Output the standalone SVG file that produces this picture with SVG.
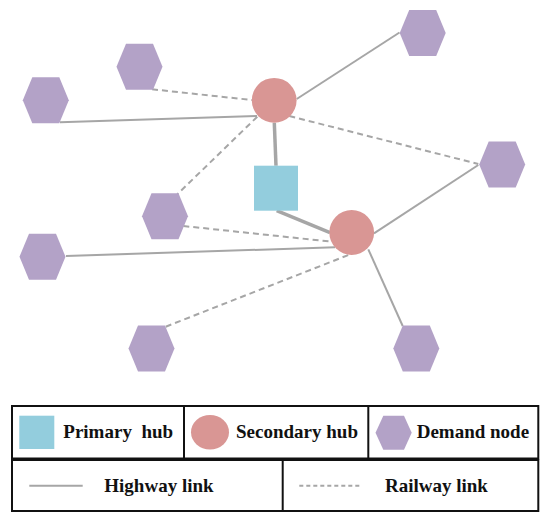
<svg xmlns="http://www.w3.org/2000/svg" width="550" height="523" viewBox="0 0 550 523">
<style>
.hw{stroke:#a6a6a6;stroke-width:2;fill:none}
.rw{stroke:#a6a6a6;stroke-width:2;fill:none;stroke-dasharray:6 4}
.main{stroke:#a6a6a6;stroke-width:3.5;fill:none}
.hexf{fill:#b3a2c7}
.hubf{fill:#d99694}
.prif{fill:#93cddd}
.box{fill:none;stroke:#111;stroke-width:2}
.lbl{font-family:"Liberation Serif","Times New Roman",serif;font-weight:bold;font-size:19px;fill:#111}
</style>
<defs>
<polygon id="hex" points="-23,0 -13.5,-23 13.5,-23 23,0 13.5,23 -13.5,23"/>
</defs>
<rect width="550" height="523" fill="#fff"/>
<g id="connectors">
<line class="hw" x1="296.7" y1="99" x2="399.5" y2="32.5"/>
<line class="rw" x1="152" y1="89.3" x2="252" y2="100"/>
<line class="hw" x1="60" y1="122.3" x2="257" y2="116"/>
<line class="rw" x1="257.3" y1="116.7" x2="177.3" y2="194.3"/>
<line class="main" x1="274.3" y1="122.7" x2="276" y2="165.7"/>
<line class="rw" x1="289.3" y1="116" x2="478.3" y2="164"/>
<line class="main" x1="276.7" y1="210.7" x2="330" y2="232.7"/>
<line class="rw" x1="183.3" y1="226" x2="331.7" y2="241.7"/>
<line class="hw" x1="66" y1="256" x2="335" y2="247.3"/>
<line class="rw" x1="165.7" y1="326.7" x2="351" y2="254"/>
<line class="hw" x1="368.3" y1="249.3" x2="402.7" y2="326"/>
<line class="hw" x1="374" y1="233.3" x2="478.3" y2="165"/>
</g>
<g id="demand1"><use href="#hex" class="hexf" x="422.7" y="33"/></g>
<g id="demand2"><use href="#hex" class="hexf" x="139.5" y="66.7"/></g>
<g id="demand3"><use href="#hex" class="hexf" x="45.8" y="100.3"/></g>
<g id="demand4"><use href="#hex" class="hexf" x="502.2" y="164.5"/></g>
<g id="demand5"><use href="#hex" class="hexf" x="165" y="216.3"/></g>
<g id="demand6"><use href="#hex" class="hexf" x="42.5" y="256.7"/></g>
<g id="demand7"><use href="#hex" class="hexf" x="151.5" y="348.5"/></g>
<g id="demand8"><use href="#hex" class="hexf" x="416.3" y="348.5"/></g>
<g id="hub1"><circle class="hubf" cx="274.2" cy="100.3" r="22.4"/></g>
<g id="hub2"><circle class="hubf" cx="351.7" cy="232.5" r="22.4"/></g>
<g id="primary"><rect class="prif" x="254" y="165.7" width="44" height="45"/></g>
<g id="legend">
<rect class="box" x="12" y="406" width="526.3" height="52.5"/>
<line class="box" x1="184" y1="406" x2="184" y2="458.5"/>
<line class="box" x1="368.3" y1="406" x2="368.3" y2="458.5"/>
<rect class="box" x="12" y="460" width="526.3" height="51"/>
<line class="box" x1="282.7" y1="460" x2="282.7" y2="511"/>
<rect class="prif" x="19.3" y="415.7" width="35" height="33.3"/>
<text class="lbl" x="63.3" y="437.7" xml:space="preserve">Primary  hub</text>
<ellipse class="hubf" cx="210" cy="432.2" rx="19" ry="17.3"/>
<text class="lbl" x="236" y="437.7">Secondary hub</text>
<polygon class="hexf" points="375.5,432.8 383.3,415.8 404,415.8 411.7,432.8 404,449.8 383.3,449.8"/>
<text class="lbl" x="416.7" y="437.7">Demand node</text>
<line class="hw" x1="29.3" y1="485.7" x2="82.7" y2="485.7"/>
<text class="lbl" x="104.3" y="491.7">Highway link</text>
<line class="hw" x1="299.3" y1="485.7" x2="361.7" y2="485.7" stroke-dasharray="4 3"/>
<text class="lbl" x="385" y="491.7">Railway link</text>
</g>
</svg>
